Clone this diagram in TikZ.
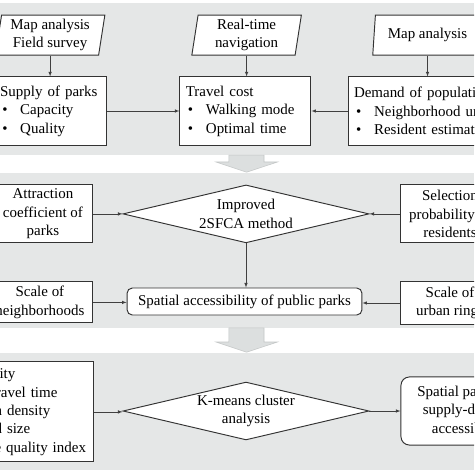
\documentclass[tikz,border=0pt]{standalone}
\usepackage{fontspec}
\setmainfont{Liberation Serif}
\usepackage{tikz}
\usetikzlibrary{shapes.geometric, arrows, positioning, calc}
\usepackage{xcolor}

\definecolor{panelgray}{RGB}{229,231,231}
\definecolor{flowgray}{RGB}{220,223,223}
\definecolor{flowedge}{RGB}{196,199,199}
\newcommand{\bitem}[1]{\makebox[0.67cm][l]{\hspace{0.07cm}\textbullet}\mbox{#1}}

\begin{document}
\begin{tikzpicture}[
    font=\fontsize{14.2}{17.5}\selectfont,
    box/.style={draw=black!80, line width=0.9pt, fill=white, inner sep=0pt, align=center},
    listbox/.style={box, align=left, inner xsep=0.2cm, minimum height=2.27cm},
    source/.style={box, trapezium, trapezium left angle=79, trapezium right angle=101,
        trapezium stretches body, minimum width=3.65cm, minimum height=1.33cm},
    decision/.style={box, diamond, aspect=4.24, minimum width=8.2cm, minimum height=1.93cm},
    link/.style={draw=black!75, line width=0.5pt, -latex},
    panel/.style={fill=panelgray},
    flow/.style={fill=flowgray, draw=flowedge, line width=0.5pt}
]
                \useasboundingbox (0,0) rectangle (15.8,-15.8);
                \clip (0,0) rectangle (15.8,-15.8);
                \fill[white] (0,0) rectangle (15.8,-15.8);

                % Panels
                \fill[panel] (0,-0.1) rectangle (15.8,-5.17);
                \fill[panel] (0,-5.77) rectangle (15.8,-10.93);
                \fill[panel] (0,-11.77) rectangle (15.8,-15.67);

                % Flow between panels
                \draw[flow] (7.63,-5.17) -- (8.8,-5.17) -- (8.8,-5.4) -- (9.25,-5.4) -- (8.22,-5.74)
                    -- (7.2,-5.4) -- (7.63,-5.4) -- cycle;
                \draw[flow] (7.63,-10.93) -- (8.8,-10.93) -- (8.8,-11.4) -- (9.25,-11.4) -- (8.22,-11.74)
                    -- (7.2,-11.4) -- (7.63,-11.4) -- cycle;

                % Panel 1: supply, travel cost, demand
                \node[source] (mapA) at (1.67,-1.17) {Map analysis\\Field survey};
                \node[source] (navi) at (8.22,-1.17) {Real-time\\navigation};
                \node[source] (mapB) at (14.25,-1.17) {Map analysis};
                \node[listbox, text width=3.33cm] (supply) at (1.67,-3.7) {Supply of parks\\\bitem{Capacity}\\\bitem{Quality}};
                \node[listbox, text width=3.97cm] (travel) at (8.18,-3.7) {Travel cost\\\bitem{Walking mode}\\\bitem{Optimal time}};
                \node[listbox, text width=4.84cm] (demand) at (14.22,-3.7) {Demand of population\\\bitem{Neighborhood units}\\\bitem{Resident estimation}};
                \draw[link] (mapA.south) -- (mapA.south |- supply.north);
                \draw[link] (navi.south) -- (navi.south |- travel.north);
                \draw[link] (mapB.south) -- (mapB.south |- demand.north);
                \draw[link] (supply.east) -- (travel.west);
                \draw[link] (demand.west) -- (travel.east);

                % Panel 2: improved 2SFCA
                \node[box, minimum width=3.33cm, minimum height=1.93cm] (attract) at (1.43,-7.13) {Attraction\\coefficient of\\parks};
                \node[decision] (sfca) at (8.2,-7.13) {Improved\\2SFCA method};
                \node[box, minimum width=3.27cm, minimum height=1.93cm] (select) at (15.0,-7.13) {Selection\\probability of\\residents};
                \node[box, rounded corners=5pt, minimum width=7.83cm, minimum height=0.9cm] (access) at (8.15,-10.05) {Spatial accessibility of public parks};
                \node[box, minimum width=3.53cm, minimum height=1.37cm] (scaleN) at (1.33,-10.08) {Scale of\\neighborhoods};
                \node[box, minimum width=3.27cm, minimum height=1.43cm] (scaleU) at (15.0,-10.1) {Scale of\\urban rings};
                \draw[link] (attract.east) -- (sfca.west);
                \draw[link] (select.west) -- (sfca.east);
                \draw[link] (sfca.south) -- (sfca.south |- access.north);
                \draw[link] (scaleN.east) -- (scaleN.east -| access.west);
                \draw[link] (scaleU.west) -- (scaleU.west -| access.east);

                % Panel 3: cluster analysis
                \node[listbox, text width=5.67cm, minimum height=3.33cm] (indic) at (0.07,-13.73) {\bitem{Accessibility}\\\bitem{Average travel time}\\\bitem{Population density}\\\bitem{Household size}\\\bitem{Landscape quality index}};
                \node[decision] (kmeans) at (8.2,-13.7) {K-means cluster\\analysis};
                \node[box, rounded corners=8pt, minimum width=4.53cm, minimum height=2.27cm] (pattern) at (15.63,-13.7) {Spatial pattern of\\supply-demand\\accessibility};
                \draw[link] (indic.east) -- (indic.east -| kmeans.west);
                \draw[link] (kmeans.east) -- (kmeans.east -| pattern.west);
            \end{tikzpicture}
\end{document}
